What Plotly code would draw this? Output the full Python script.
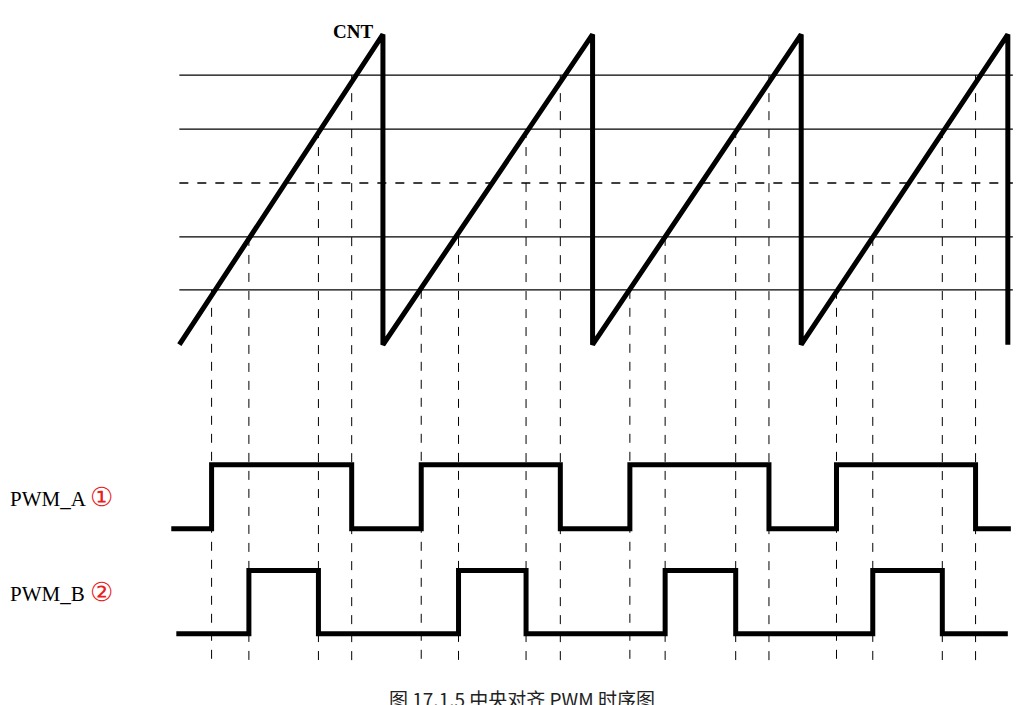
import plotly.graph_objects as go

# level names / y positions (diagram units, y grows downward)
level_names = ["VAL1 ($0100)", "VAL3", "VAL5", "VAL0 ($0000)", "VAL4", "VAL2", "INIT ($FF00)"]
level_marks = ["⑤", "⑦", "⑨", "④", "⑧", "⑥", "③"]
level_y = [22, 73, 126, 179, 232, 284, 328]
line_levels = [73, 126, 179, 232, 284]
line_dashed = [False, False, True, False, False]

# CNT sawtooth
cnt_x = [178, 380, 380, 588, 588, 795, 795, 1000, 1000]
cnt_y = [338, 33, 338, 33, 338, 33, 338, 33, 338]

# event times (vertical dashed lines) and the level each starts from
event_x = [210, 247, 316, 349, 418, 455, 522, 556, 625, 660, 730, 763, 830, 866, 935, 968]
event_top = [284, 232, 126, 73, 284, 232, 126, 73, 284, 232, 126, 73, 284, 232, 126, 73]

# PWM waveforms
pwma_x = [170, 210, 210, 349, 349, 418, 418, 556, 556, 625, 625, 763, 763, 830, 830, 968, 968, 1003]
pwma_y = [519, 519, 456, 456, 519, 519, 456, 456, 519, 519, 456, 456, 519, 519, 456, 456, 519, 519]
pwmb_x = [175, 247, 247, 316, 316, 455, 455, 522, 522, 660, 660, 730, 730, 866, 866, 935, 935, 1000]
pwmb_y = [622, 622, 560, 560, 622, 622, 560, 560, 622, 622, 560, 560, 622, 622, 560, 560, 622, 622]

fig = go.Figure()
for ly, d in zip(line_levels, line_dashed):
    fig.add_trace(go.Scatter(x=[178, 1005], y=[ly, ly], mode="lines",
                             line=dict(color="black", width=1.3, dash="dash" if d else "solid")))
for ex, et in zip(event_x, event_top):
    fig.add_trace(go.Scatter(x=[ex, ex], y=[et, 652], mode="lines",
                             line=dict(color="black", width=1, dash="dash")))
for xs, ys in [(cnt_x, cnt_y), (pwma_x, pwma_y), (pwmb_x, pwmb_y)]:
    fig.add_trace(go.Scatter(x=xs, y=ys, mode="lines",
                             line=dict(color="black", width=5)))

ann = []
serif = "Liberation Serif"
red = "<span style='color:#e8201c;font-size:26px'>{}</span>"
for n, m, y in zip(level_names, level_marks, level_y):
    ann.append(dict(x=4, y=y, xanchor="left", yanchor="middle", showarrow=False,
                    text=n + " " + red.format(m),
                    font=dict(family=serif, size=21, color="black")))
ann.append(dict(x=8, y=488, xanchor="left", yanchor="middle", showarrow=False,
                text="PWM_A " + red.format("①"),
                font=dict(family=serif, size=21, color="black")))
ann.append(dict(x=8, y=582, xanchor="left", yanchor="middle", showarrow=False,
                text="PWM_B " + red.format("②"),
                font=dict(family=serif, size=21, color="black")))
ann.append(dict(x=350, y=30, showarrow=False, text="<b>CNT</b>",
                font=dict(family=serif, size=19, color="black")))
ann.append(dict(x=518, y=686, showarrow=False, text="图 17.1.5 中央对齐 PWM 时序图",
                font=dict(family="Noto Sans CJK SC", size=19, color="#222")))

fig.update_layout(width=1022, height=705, margin=dict(l=0, r=0, t=0, b=0),
                  plot_bgcolor="white", paper_bgcolor="white", showlegend=False,
                  annotations=ann,
                  xaxis=dict(range=[8, 1022], visible=False),
                  yaxis=dict(range=[700, 7], visible=False))
fig.write_html("out.html")
